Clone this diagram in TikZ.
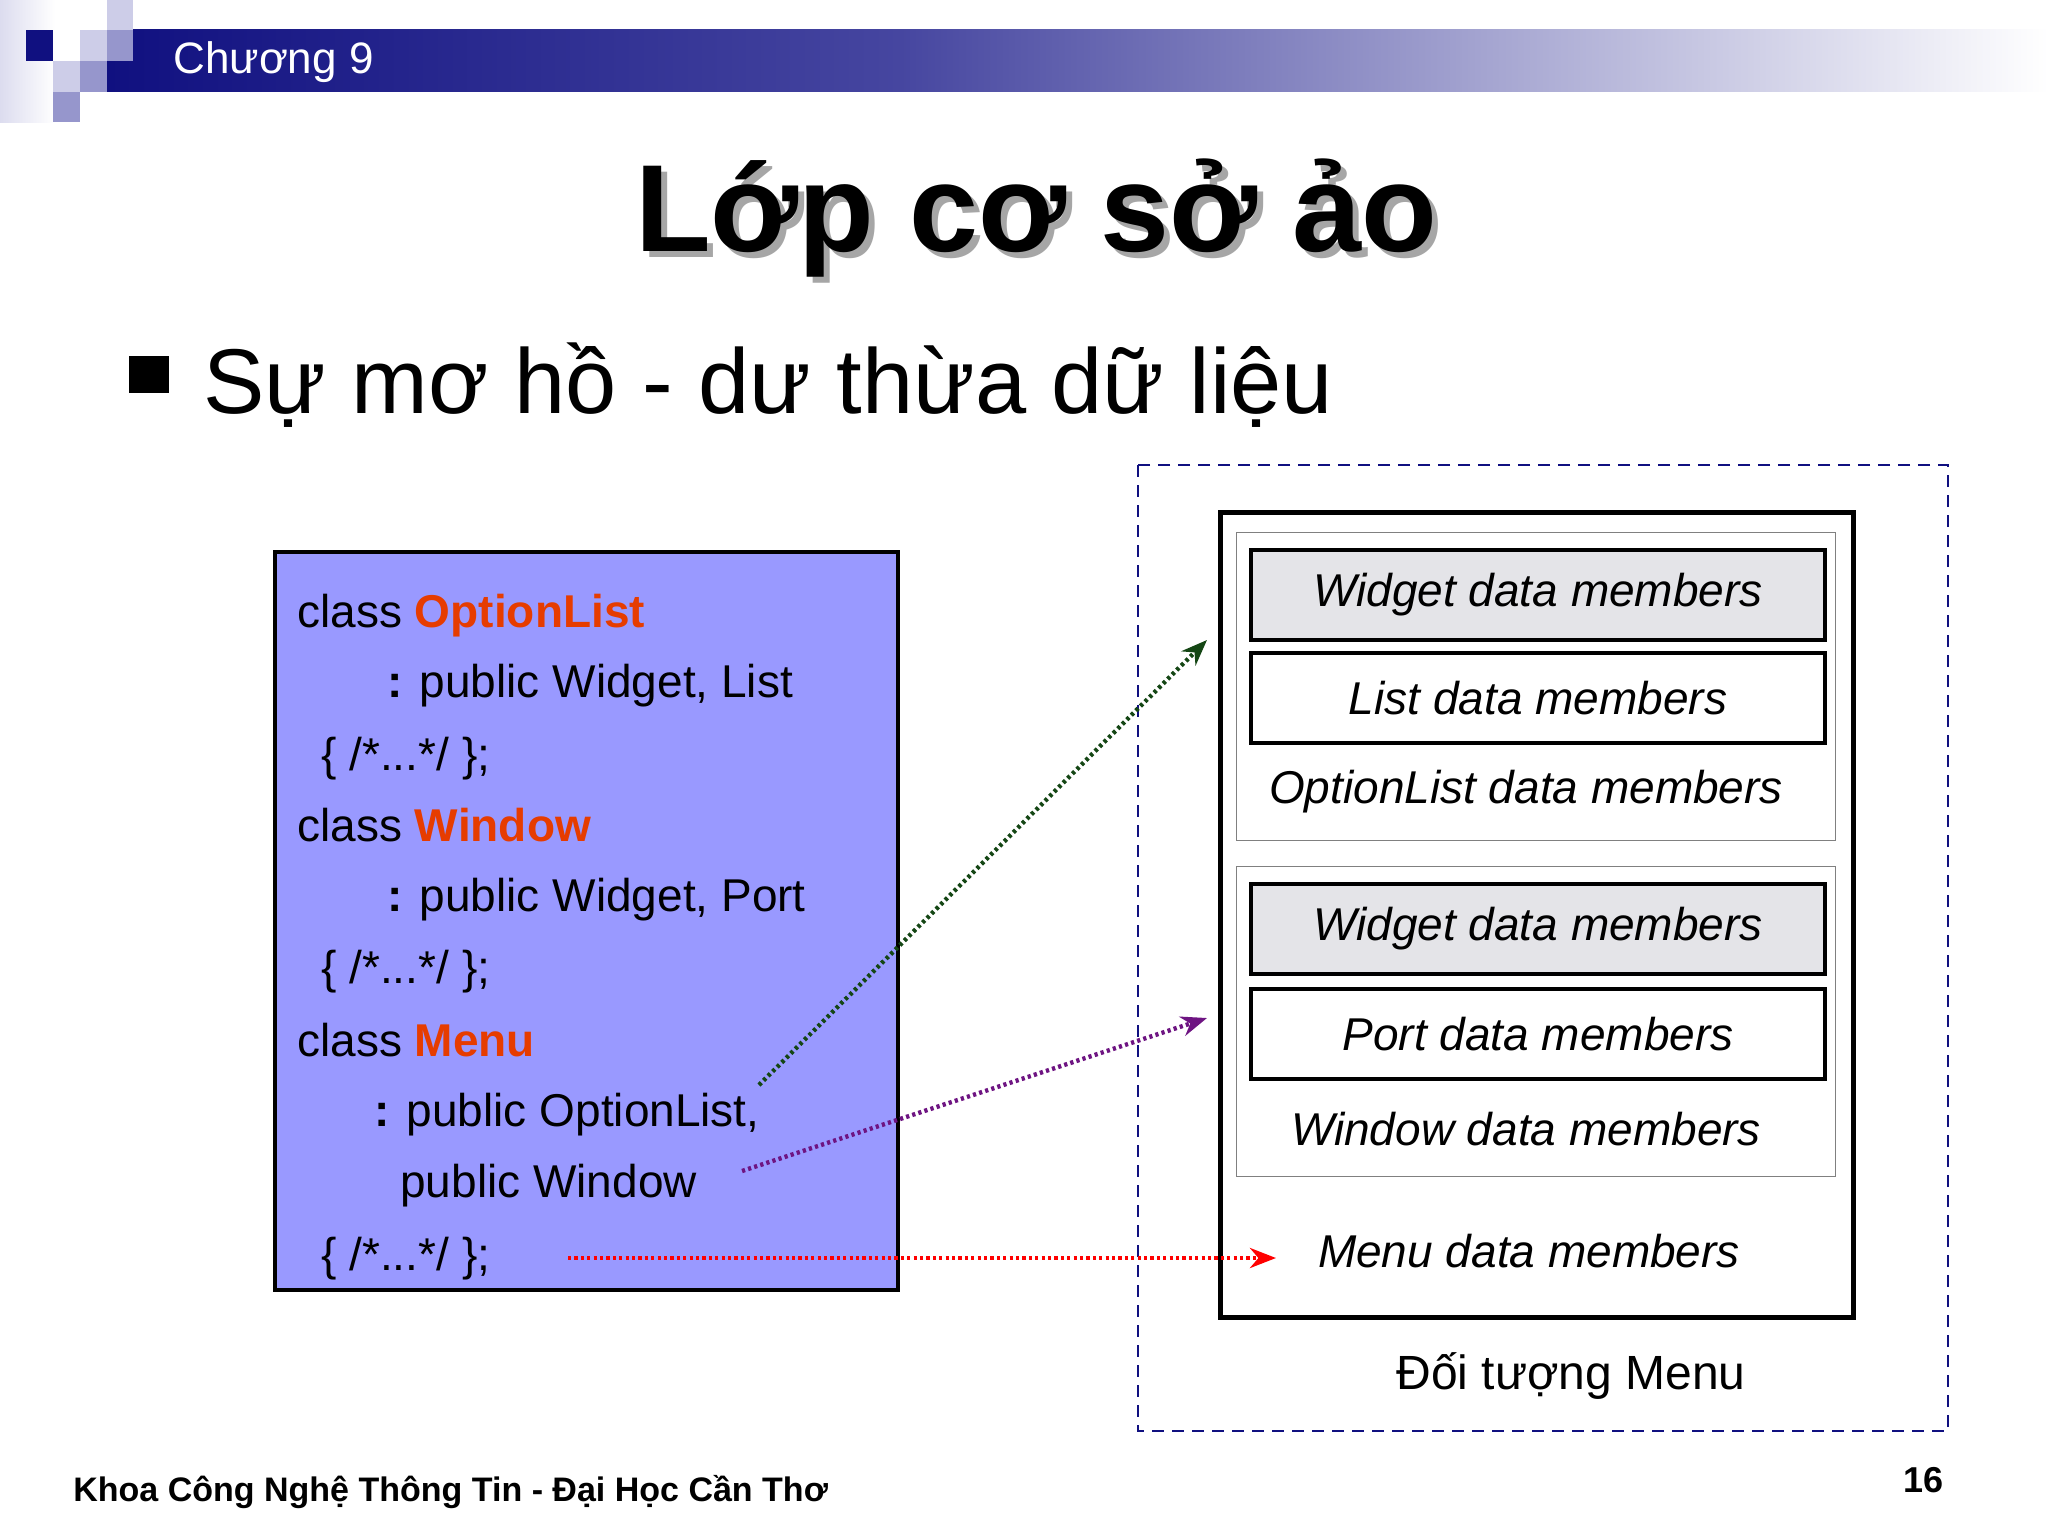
\documentclass[tikz,border=0pt]{standalone}
\usepackage{fontspec}
\setmainfont{Liberation Sans}
\usetikzlibrary{arrows.meta}
\definecolor{navy}{RGB}{16,16,128}
\definecolor{barmid}{RGB}{70,70,160}
\definecolor{sqlight}{RGB}{205,205,232}
\definecolor{sqmed}{RGB}{150,150,204}
\definecolor{codefill}{RGB}{153,153,255}
\definecolor{kw}{RGB}{230,60,0}
\definecolor{boxgray}{RGB}{228,228,232}
\definecolor{dgreen}{RGB}{20,70,20}
\definecolor{dpurple}{RGB}{110,20,130}
\newcommand{\kwd}[1]{\textcolor{kw}{\bfseries #1}}
\tikzset{
  code/.style={anchor=base west,font=\fontsize{23}{25}\selectfont,inner sep=0},
  mem/.style={draw=black,line width=2pt,minimum width=287pt,minimum height=45pt,anchor=north west,inner sep=0,font=\fontsize{23}{25}\selectfont\itshape},
  group/.style={draw=gray,line width=0.6pt,anchor=north west,inner sep=0},
  lab/.style={font=\fontsize{23}{25}\selectfont\itshape,inner sep=0},
  arr/.style={dash pattern=on 1.6pt off 1.6pt,line width=2.2pt,-{Stealth[length=13pt,width=10pt]}},
}
\begin{document}
\begin{tikzpicture}[x=0.5pt,y=-0.5pt]
\useasboundingbox (0,0) rectangle (2048,1536);
\fill[white] (0,0) rectangle (2048,1536);
% header
\shade[left color=sqlight!70,right color=white] (0,0) rectangle (55,122);
\shade[left color=navy,right color=barmid] (107,30) rectangle (900,92);
\shade[left color=barmid,right color=white] (900,30) rectangle (2048,92);
\fill[sqlight] (107,0) rectangle (133,30);
\fill[navy] (26,30) rectangle (53,61);
\fill[sqlight] (80,30) rectangle (107,61);
\fill[sqmed] (107,30) rectangle (133,61);
\fill[sqlight] (53,61) rectangle (80,92);
\fill[sqmed] (80,61) rectangle (107,92);
\fill[sqmed] (53,92) rectangle (80,122);
\node[anchor=base west,text=white,font=\fontsize{22}{24}\selectfont,inner sep=0] (chap) at (173,74) {Chương 9};
% title
\node[anchor=base,text=gray!70,font=\fontsize{62}{66}\selectfont\bfseries,inner sep=0] (tsh) at (1042,257) {Lớp cơ sở ảo};
\node[anchor=base,font=\fontsize{62}{66}\selectfont\bfseries,inner sep=0] (title) at (1036,251) {Lớp cơ sở ảo};
% bullet
\fill (129,356) rectangle (169,393);
\node[anchor=base west,font=\fontsize{46}{50}\selectfont,inner sep=0] (bul) at (203,413) {Sự mơ hồ - dư thừa dữ liệu};
% code box
\draw[fill=codefill,line width=2pt] (275,552) rectangle (898,1290);
\node[code] (c1) at (297,627) {class \kwd{OptionList}};
\node[code] (c2) at (387,697) {\textbf{:} public Widget, List};
\node[code] (c3) at (321,770) {\{ /*...*/ \};};
\node[code] (c4) at (297,841) {class \kwd{Window}};
\node[code] (c5) at (387,911) {\textbf{:} public Widget, Port};
\node[code] (c6) at (321,983) {\{ /*...*/ \};};
\node[code] (c7) at (297,1056) {class \kwd{Menu}};
\node[code] (c8) at (374,1126) {\textbf{:} public OptionList,};
\node[code] (c9) at (400,1197) {public Window};
\node[code] (c10) at (321,1270) {\{ /*...*/ \};};
% object
\draw[navy,line width=1.4pt,dash pattern=on 6pt off 4pt] (1138,465) rectangle (1948,1431);
\draw[line width=2.5pt] (1220,512) rectangle (1853,1317);
\node[group,minimum width=299.5pt,minimum height=154pt] (g1) at (1236,532) {};
\node[mem,fill=boxgray] (w1) at (1249,548) {Widget data members};
\node[mem,fill=white] (l1) at (1249,651) {List data members};
\node[lab] (o1) at (1526,792) {OptionList data members};
\node[group,minimum width=299.5pt,minimum height=155pt] (g2) at (1236,866) {};
\node[mem,fill=boxgray] (w2) at (1249,882) {Widget data members};
\node[mem,fill=white] (p2) at (1249,987) {Port data members};
\node[lab] (wi2) at (1526,1129) {Window data members};
\node[lab] (m) at (1529,1251) {Menu data members};
\node[font=\fontsize{24}{26}\selectfont,inner sep=0] (cap) at (1571,1376) {Đối tượng Menu};
% arrows
\coordinate (s1) at (759,1085); \coordinate (e1) at (1207,640);
\coordinate (s2) at (742,1171); \coordinate (e2) at (1207,1018);
\coordinate (s3) at (568,1258); \coordinate (e3) at (1276,1258);
\draw[arr,dgreen] (s1) -- (e1);
\draw[arr,dpurple] (s2) -- (e2);
\draw[arr,red] (s3) -- (e3);
% footer
\node[anchor=base west,font=\fontsize{17}{19}\selectfont\bfseries,inner sep=0] (foot) at (73,1501) {Khoa Công Nghệ Thông Tin - Đại Học Cần Thơ};
\node[anchor=base east,font=\fontsize{18}{20}\selectfont\bfseries,inner sep=0] (pg) at (1944,1492) {16};
\end{tikzpicture}
\end{document}
